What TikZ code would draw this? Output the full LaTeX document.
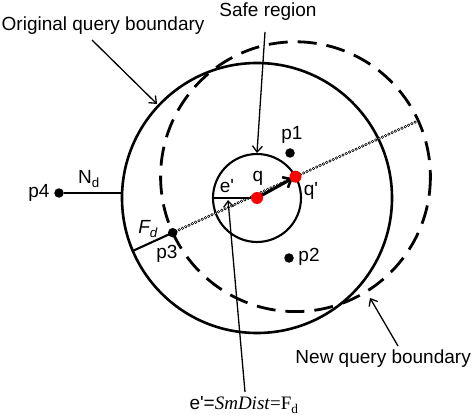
\documentclass[tikz,border=0pt]{standalone}
\usepackage{fontspec}
\setmainfont{Liberation Sans}
\newfontfamily\tms{Liberation Serif}
\usetikzlibrary{arrows.meta}
\begin{document}
\begin{tikzpicture}[x=1pt,y=-1pt,
  lbl/.style={font=\fontsize{19}{22}\selectfont, inner sep=0pt},
  dotb/.style={circle, fill=black, inner sep=0pt, minimum size=9.5pt},
  dotr/.style={circle, fill=red, inner sep=0pt, minimum size=12pt},
  pointer/.style={line width=1.3pt, -{Straight Barb[length=6pt,width=10pt,line width=1.3pt]}},
  bigcirc/.style={line width=2.6pt},
  newcirc/.style={line width=2.8pt, dash pattern=on 19pt off 10pt},
  seg/.style={line width=2.1pt}]
\useasboundingbox (0,0) rectangle (474,417);
% key points
\coordinate (q) at (257,198);
\coordinate (qp) at (295.5,176.7);
\coordinate (far) at (418.3,120.7);
\coordinate (fdend) at (132.8,250.9);
\coordinate (ndend) at (122.1,193);
\coordinate (eend) at (213,198);
% circles
\draw[bigcirc] (q) circle (135);
\draw[seg] (q) circle (44);
\draw[newcirc] (qp) circle (134.9);
% chain line
\draw[line width=3.3pt, line cap=round, dash pattern=on 0pt off 3.6pt] (172.7,232.7) -- (far);
\draw[white, line width=1.3pt, line cap=round, dash pattern=on 0pt off 3.6pt] (172.7,232.7) -- (far);
% points
\node[dotb] (p1) at (290,153) {};
\node[dotb] (p2) at (289,258) {};
\node[dotb] (p3) at (172.7,232.7) {};
\node[dotb] (p4) at (59,193) {};
% segments
\draw[seg] (p4) -- (ndend);
\draw[seg] (p3.center) -- (fdend);
\draw[seg] (q) -- (eend);
\draw[line width=3pt, -{Straight Barb[length=7pt,width=12pt,line width=2.6pt]}, shorten >=3pt] (q) -- (qp);
\node[dotr] (qd) at (q) {};
\node[dotr] (qpd) at (qp) {};
% labels
\node[lbl] at (292,135) {p1};
\node[lbl] at (309,257) {p2};
\node[lbl] at (167,254) {p3};
\node[lbl] at (39,193) {p4};
\node[lbl] at (89,179) {N\textsubscript{d}};
\node[lbl] at (148,229) {\textit{F\textsubscript{d}}};
\node[lbl] at (227,186) {e\textquotesingle};
\node[lbl] at (258,178) {q};
\node[lbl] at (311,191) {q\textquotesingle};
% annotations
\node[lbl] (safe) at (268,12) {Safe region};
\coordinate (safeS) at (265,32);
\coordinate (safeT) at (257,153);
\draw[pointer] (safeS) -- (safeT);
\node[lbl, anchor=west] (orig) at (1.5,26) {Original query boundary};
\coordinate (origS) at (92,40);
\coordinate (origT) at (157,104);
\draw[pointer] (origS) -- (origT);
\node[lbl, anchor=east] (newq) at (471,359) {New query boundary};
\coordinate (newS) at (398,346);
\coordinate (newT) at (370,298);
\draw[pointer] (newS) -- (newT);
\node[lbl] (eq) at (244,405) {e\textquotesingle={\tms\textit{SmDist}=F\textsubscript{d}}};
\coordinate (eqS) at (245,392);
\coordinate (eqT) at (228,200);
\draw[pointer] (eqS) -- (eqT);
\end{tikzpicture}
\end{document}
